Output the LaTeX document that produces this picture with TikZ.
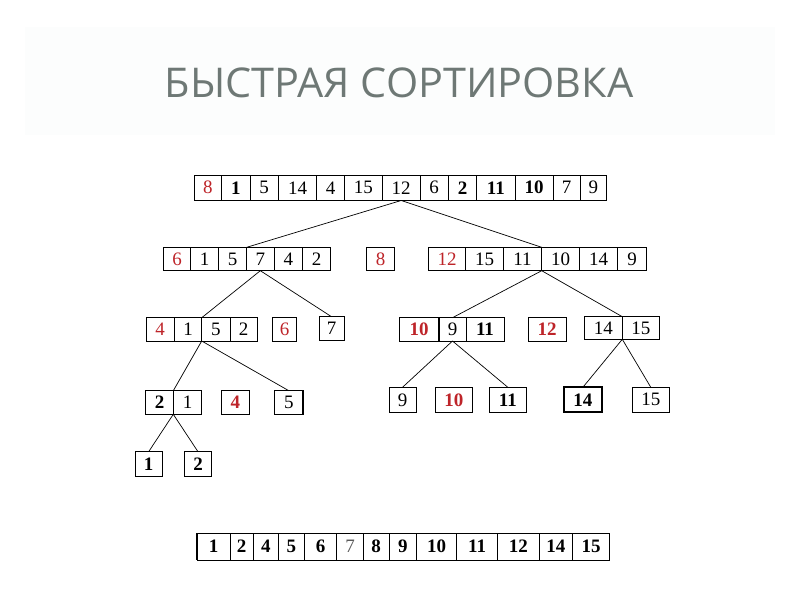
\documentclass[tikz,border=0pt]{standalone}
\usepackage{fontspec}
\setmainfont{Liberation Serif}
\newfontfamily\titlefont{Open Sans}
\definecolor{pivred}{HTML}{BE2429}
\definecolor{titlegray}{HTML}{6E7875}
\definecolor{panel}{HTML}{FCFDFD}
\tikzset{
  cell/.style={draw=black, line width=0.8pt, inner sep=0pt, outer sep=0pt, font=\fontsize{19}{19}\selectfont},
  piv/.style={text=pivred},
  bf/.style={font=\fontsize{19}{19}\selectfont\bfseries},
  conn/.style={draw=black, line width=0.7pt}
}
\newcommand\mycell[7][]{%
  \pgfmathsetmacro\cx{(#3+#4)/2}\pgfmathsetmacro\cy{(#5+#6)/2}%
  \pgfmathsetmacro\cw{#4-#3}\pgfmathsetmacro\ch{#6-#5}%
  \node[cell,minimum width=\cw pt,minimum height=\ch pt,#1] (#2) at (\cx,\cy) {#7};}
\begin{document}
\begin{tikzpicture}[x={(1pt,0)},y={(0,-1pt)}]
\useasboundingbox (0,0) rectangle (800,600);
\fill[white] (0,0) rectangle (800,600);
\fill[panel] (25,27) rectangle (775,135);
\node[text=titlegray, font=\titlefont\fontsize{41}{41}\selectfont, inner sep=0pt, xscale=1.01] (title) at (399,83) {БЫСТРАЯ СОРТИРОВКА};

% Row 1
\mycell[piv]{a1}{194}{221.7}{175}{200.5}{8}
\mycell[bf]{a2}{221.7}{250}{175}{200.5}{1}
\mycell{a3}{250}{278.3}{175}{200.5}{5}
\mycell{a4}{278.3}{316.7}{175}{200.5}{14}
\mycell{a5}{316.7}{344.3}{175}{200.5}{4}
\mycell{a6}{344.3}{382.3}{175}{200.5}{15}
\mycell{a7}{382.3}{420}{175}{200.5}{12}
\mycell{a8}{420}{448.3}{175}{200.5}{6}
\mycell[bf]{a9}{448.3}{476.7}{175}{200.5}{2}
\mycell[bf]{a10}{476.7}{515}{175}{200.5}{11}
\mycell[bf]{a11}{515}{553.3}{175}{200.5}{10}
\mycell{a12}{553.3}{580}{175}{200.5}{7}
\mycell{a13}{580}{606.7}{175}{200.5}{9}

% Row 2 left
\mycell[piv]{b1}{163.3}{190.7}{247.3}{270.7}{6}
\mycell{b2}{190.7}{218.3}{247.3}{270.7}{1}
\mycell{b3}{218.3}{246.7}{247.3}{270.7}{5}
\mycell{b4}{246.7}{274}{247.3}{270.7}{7}
\mycell{b5}{274}{302.7}{247.3}{270.7}{4}
\mycell{b6}{302.7}{330.7}{247.3}{270.7}{2}
\mycell[piv]{b8}{366.7}{394.3}{247.5}{270.5}{8}
% Row 2 right
\mycell[piv]{c1}{428.3}{465.7}{247.3}{270.7}{12}
\mycell{c2}{465.7}{503.3}{247.3}{270.7}{15}
\mycell{c3}{503.3}{541.7}{247.3}{270.7}{11}
\mycell{c4}{541.7}{579.3}{247.3}{270.7}{10}
\mycell{c5}{579.3}{617.7}{247.3}{270.7}{14}
\mycell{c6}{617.7}{646.7}{247.3}{270.7}{9}

% Row 3 left
\mycell[piv]{d1}{146}{174.3}{317.7}{341}{4}
\mycell{d2}{174.3}{201.7}{317.7}{341}{1}
\mycell{d3}{201.7}{230}{317.7}{341}{5}
\mycell{d4}{230}{257.3}{317.7}{341}{2}
\mycell[piv]{d6}{272.7}{296.7}{317.7}{341}{6}
\mycell{d7}{319}{344}{316.7}{340}{7}
% Row 3 right
\mycell[piv,bf]{e1}{399.3}{439}{317.7}{341}{10}
\mycell{e2}{439}{466}{317.7}{341}{9}
\mycell[bf]{e3}{466}{504}{317.7}{341}{11}
\mycell[piv,bf]{e12}{528.3}{566}{317.7}{341}{12}
\mycell{f1}{584.3}{622.3}{316.7}{339.3}{14}
\mycell{f2}{622.3}{659.3}{316.7}{339.3}{15}
\draw[line width=1.8pt] (e1.north east) -- (e1.south east);

% Row 4 left
\mycell[bf]{g1}{145.7}{173.3}{390.7}{414.3}{2}
\mycell{g2}{173.3}{201.7}{390.7}{414.3}{1}
\mycell[piv,bf]{g4}{221.7}{249}{390.7}{414.3}{4}
\mycell{g5}{274.3}{303.3}{390.7}{414.3}{5}
\draw[line width=2pt] (g5.north east) -- (g5.south east);
% Row 4 right
\mycell{h9}{389}{416}{387.3}{412.3}{9}
\mycell[piv,bf]{h10}{435}{472.7}{387.3}{412.3}{10}
\mycell[bf]{h11}{489}{526.7}{387.3}{412.3}{11}
\mycell[bf,line width=1.8pt]{h14}{564}{601.7}{387.3}{412.3}{14}
\mycell{h15}{632.3}{669.3}{387.3}{412.3}{15}

% Row 5
\mycell[bf]{k1}{135}{162.3}{451.7}{476}{1}
\mycell[bf]{k2}{184.3}{211.7}{451.7}{476}{2}

% Final row
\mycell[bf]{z1}{197.3}{230}{533.3}{560}{1}
\mycell[bf]{z2}{230}{253.3}{533.3}{560}{2}
\mycell[bf]{z3}{253.3}{278.3}{533.3}{560}{4}
\mycell[bf]{z4}{278.3}{304.3}{533.3}{560}{5}
\mycell[bf]{z5}{304.3}{336.7}{533.3}{560}{6}
\mycell[text=black!65]{z6}{336.7}{363.3}{533.3}{560}{7}
\mycell[bf]{z7}{363.3}{389}{533.3}{560}{8}
\mycell[bf]{z8}{389}{416.7}{533.3}{560}{9}
\mycell[bf]{z9}{416.7}{456.7}{533.3}{560}{10}
\mycell[bf]{z10}{456.7}{497.7}{533.3}{560}{11}
\mycell[bf]{z11}{497.7}{539}{533.3}{560}{12}
\mycell[bf]{z12}{539}{572.7}{533.3}{560}{14}
\mycell[bf]{z13}{572.7}{609.3}{533.3}{560}{15}
\draw[line width=2pt] (z1.north west) -- (z1.south west);

% Connectors
\draw[conn] (b4.north west) -- (a7.south) -- (c3.north east);
\draw[conn] (d2.north east) -- (b4.south) -- (d7.north);
\draw[conn] (e2.north) -- (c3.south east) -- (f1.north east);
\draw[conn] (g1.north east) -- (d2.south east) -- (g5.north);
\draw[conn] (h9.north) -- (e2.south) -- (h11.north);
\draw[conn] (h14.north) -- (f1.south east) -- (h15.north);
\draw[conn] (k1.north) -- (g1.south east) -- (k2.north);
\end{tikzpicture}
\end{document}
